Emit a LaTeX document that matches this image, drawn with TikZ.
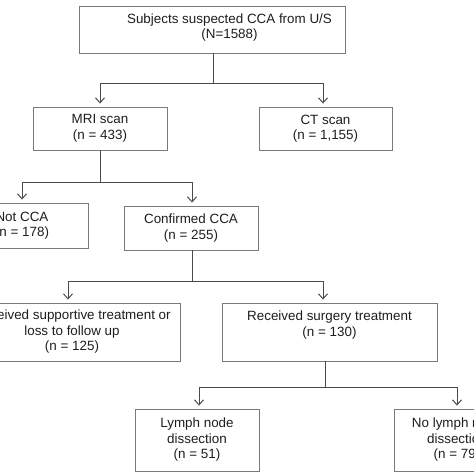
\documentclass[tikz,border=0pt]{standalone}
\usepackage{fontspec}
\setmainfont{Liberation Sans}
\usetikzlibrary{arrows.meta}
\definecolor{boxline}{HTML}{7A7A7A}
\definecolor{conline}{HTML}{4A4A4A}
\definecolor{txt}{HTML}{1E1E1E}
\begin{document}
\begin{tikzpicture}[x=1pt,y=-1pt,
  box/.style={draw=boxline,line width=0.9pt,inner sep=0pt,align=center,text=txt,
    font=\fontsize{13.4}{15.5}\selectfont},
  lbl/.style={inner sep=0pt,align=center,text=txt,font=\fontsize{13.4}{15.5}\selectfont},
  con/.style={draw=conline,line width=0.9pt},
  arr/.style={con,-{Straight Barb[length=5pt,width=9pt,line width=1pt]},shorten >=3pt}]
\useasboundingbox (0,0) rectangle (474,474);
\clip (0,0) rectangle (474,474);
\fill[white] (0,0) rectangle (474,474);
% boxes
\node[box,minimum width=266pt,minimum height=47pt] (top) at (212,29.5) {};
\node[lbl] (toptext) at (229.5,27.5) {Subjects suspected CCA from U/S\\(N=1588)};
\node[box,minimum width=134pt,minimum height=43pt] (mri) at (100,128.5) {MRI scan\\(n = 433)};
\node[box,minimum width=133pt,minimum height=43pt] (ct) at (325.5,128.5) {CT scan\\(n = 1,155)};
\node[box,minimum width=132pt,minimum height=45pt] (notcca) at (22,225.5) {Not CCA\\(n = 178)};
\node[box,minimum width=134pt,minimum height=44pt] (conf) at (191,228) {Confirmed CCA\\(n = 255)};
\node[box,minimum width=216pt,minimum height=58pt] (supp) at (72,332) {Received supportive treatment or\\loss to follow up\\(n = 125)};
\node[box,minimum width=215pt,minimum height=58pt] (surg) at (329.5,332) {};
\node[lbl] (surgtext) at (329.5,325) {Received surgery treatment\\(n = 130)};
\node[box,minimum width=124pt,minimum height=62pt] (lymph) at (197,440) {Lymph node\\dissection\\(n = 51)};
\node[box,minimum width=126pt,minimum height=62pt] (nolymph) at (457,440) {No lymph node\\dissection\\(n = 79)};
% junction coordinates
\coordinate (j1) at (213,83);
\coordinate (j1l) at (100,83);
\coordinate (j1r) at (323,83);
\coordinate (j2) at (100,182);
\coordinate (j2l) at (22,182);
\coordinate (j2r) at (192,182);
\coordinate (j3) at (192,281);
\coordinate (j3l) at (68,281);
\coordinate (j3r) at (323,281);
\coordinate (j4) at (325,387);
\coordinate (j4l) at (199,387);
\coordinate (j4r) at (457,387);
% connectors
\draw[con] (top.south -| j1) -- (j1);
\draw[con] (j1l) -- (j1r);
\draw[arr] (j1l) -- (j1l |- mri.north);
\draw[arr] (j1r) -- (j1r |- ct.north);
\draw[con] (mri.south -| j2) -- (j2);
\draw[con] (j2l) -- (j2r);
\draw[arr] (j2l) -- (j2l |- notcca.north);
\draw[arr] (j2r) -- (j2r |- conf.north);
\draw[con] (conf.south -| j3) -- (j3);
\draw[con] (j3l) -- (j3r);
\draw[arr] (j3l) -- (j3l |- supp.north);
\draw[arr] (j3r) -- (j3r |- surg.north);
\draw[con] (surg.south -| j4) -- (j4);
\draw[con] (j4l) -- (j4r);
\draw[arr] (j4l) -- (j4l |- lymph.north);
\draw[arr] (j4r) -- (j4r |- nolymph.north);
\end{tikzpicture}
\end{document}
